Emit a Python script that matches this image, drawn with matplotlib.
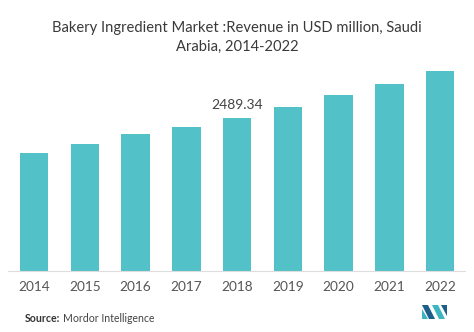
import matplotlib
matplotlib.use("Agg")
import matplotlib.pyplot as plt
from matplotlib.patches import Polygon

years = ["2014", "2015", "2016", "2017", "2018", "2019", "2020", "2021", "2022"]
revenue = [1915, 2061, 2218, 2332, 2489.34, 2661, 2851, 3041, 3252]
label_year = "2018"
label_text = "2489.34"

plt.rcParams['font.family'] = ['Lato', 'DejaVu Sans']

fig = plt.figure(figsize=(4.74, 3.32), dpi=100)
ax = fig.add_axes([8/474, 1 - 271/332, (465-8)/474, (271-60)/332])

x = list(range(len(years)))
ax.bar(x, revenue, width=0.56, color="#52C2C8")
ax.set_xlim(-0.512, 8.49)
ax.set_ylim(0, 2489.34 * 211 / 153.4)
ax.set_xticks(x)
ax.set_xticklabels(years, fontsize=9.8, color="#555555")
ax.tick_params(axis='x', length=0, pad=7)
ax.set_yticks([])
for s in ["top", "right", "left"]:
    ax.spines[s].set_visible(False)
ax.spines["bottom"].set_color("#dddddd")
ax.spines["bottom"].set_linewidth(0.8)

i = years.index(label_year)
ax.annotate(label_text, (x[i], revenue[i]), xytext=(0, 5), textcoords="offset points",
            ha="center", va="bottom", fontsize=10, color="#444444")

fig.text(0.5, 1 - 28/332, "Bakery Ingredient Market :Revenue in USD million, Saudi",
         ha="center", va="center", fontsize=10.6, color="#3a3a3a")
fig.text(0.5, 1 - 47/332, "Arabia, 2014-2022",
         ha="center", va="center", fontsize=10.6, color="#3a3a3a")

fig.text(25/474, 1 - 319/332, "Source:", ha="left", va="center", fontsize=7.6,
         fontweight="bold", color="#333333")
fig.text(63/474, 1 - 319/332, "Mordor Intelligence", ha="left", va="center",
         fontsize=7.6, color="#444444")

# logo
def P(pts, c):
    fig.patches.append(Polygon([(px/474, 1 - py/332) for px, py in pts], closed=True,
                               transform=fig.transFigure, facecolor=c, edgecolor="none"))
P([(422, 305), (428, 305), (435, 319), (429, 319)], "#1C5F8A")
P([(422, 309), (428, 319), (422, 319)], "#3DB5C0")
P([(432, 305), (438, 305), (445, 319), (439, 319)], "#3DB5C0")
P([(441, 305), (447, 305), (447, 316)], "#1C5F8A")

fig.savefig("out.png", dpi=100)
